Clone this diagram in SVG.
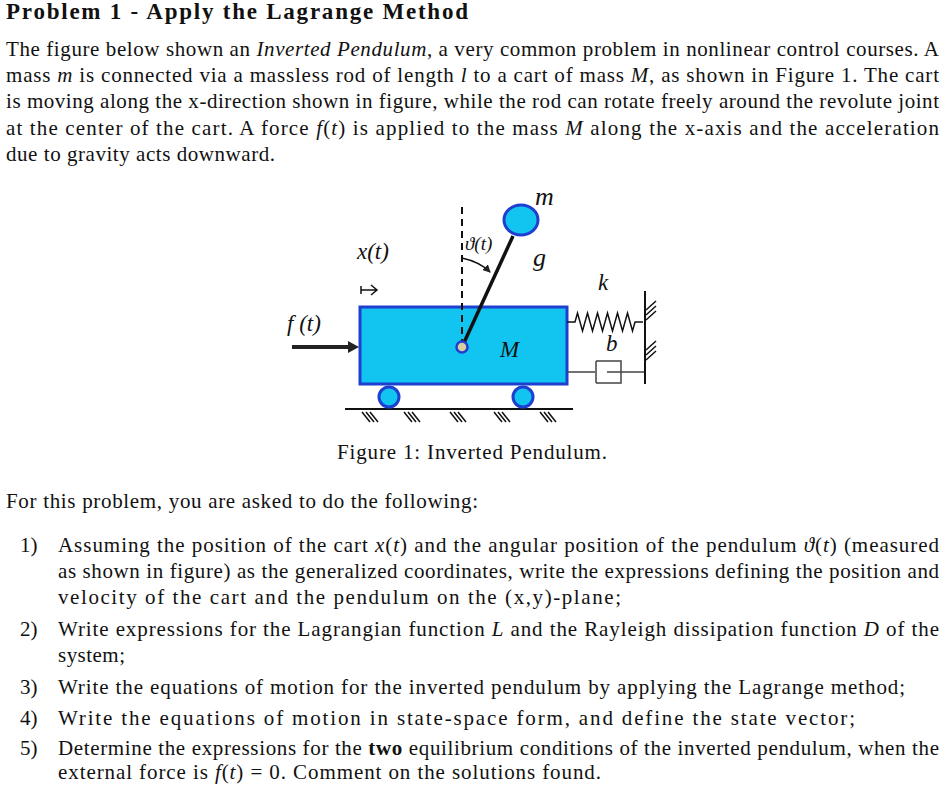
<svg xmlns="http://www.w3.org/2000/svg" width="945" height="786" viewBox="0 0 945 786">
<style>
text{font-family:"Liberation Serif",serif;fill:#111;font-size:21px}
.it{font-style:italic}
.b{stroke:#1f3fd0;stroke-width:3;fill:#12c4f0}
.k{stroke:#111;fill:none}
.f{font-style:italic;font-size:23px}
</style>
<defs><marker id="ah" markerWidth="8" markerHeight="8" refX="7" refY="4" orient="auto" markerUnits="userSpaceOnUse"><path d="M0,0 L8,4 L0,8z" fill="#222"/></marker></defs>
<rect width="945" height="786" fill="#fff"/>
<text x="6" y="19" style="font-weight:bold;font-size:23px" textLength="462" lengthAdjust="spacing">Problem 1 - Apply the Lagrange Method</text>
<text x="6" y="56" textLength="933" lengthAdjust="spacing">The figure below shown an <tspan class="it">Inverted Pendulum</tspan>, a very common problem in nonlinear control courses. A</text>
<text x="6" y="82" textLength="933" lengthAdjust="spacing">mass <tspan class="it">m</tspan> is connected via a massless rod of length <tspan class="it">l</tspan> to a cart of mass <tspan class="it">M</tspan>, as shown in Figure 1. The cart</text>
<text x="6" y="108" textLength="933" lengthAdjust="spacing">is moving along the x-direction shown in figure, while the rod can rotate freely around the revolute joint</text>
<text x="6" y="135" textLength="933" lengthAdjust="spacing">at the center of the cart. A force <tspan class="it">f</tspan>(<tspan class="it">t</tspan>) is applied to the mass <tspan class="it">M</tspan> along the x-axis and the acceleration</text>
<text x="6" y="161" textLength="269" lengthAdjust="spacing">due to gravity acts downward.</text>

<g id="ground" class="k" stroke-width="2">
<line x1="345" y1="409" x2="573" y2="409"/>
<path d="M362,412 l8,10 M366,412 l8,10 M370,412 l8,10 M404,412 l8,10 M408,412 l8,10 M412,412 l8,10 M450,412 l8,10 M454,412 l8,10 M458,412 l8,10 M494,412 l8,10 M498,412 l8,10 M502,412 l8,10 M540,412 l8,10 M544,412 l8,10 M548,412 l8,10" stroke-width="1.5"/>
</g>
<g id="cart">
<rect x="360" y="307" width="207" height="77" class="b" stroke-width="2.5"/>
<circle cx="389" cy="397" r="10" class="b"/>
<circle cx="523" cy="397" r="10" class="b"/>
<text x="500" y="357" class="f">M</text>
</g>
<g id="pendulum">
<line x1="462" y1="207" x2="462" y2="347" stroke="#111" stroke-width="2" stroke-dasharray="7,5"/>
<line x1="462" y1="347" x2="513" y2="236" stroke="#111" stroke-width="3.5"/>
<circle cx="462" cy="347" r="5.5" fill="#d8cfa0" stroke="#1f3fd0" stroke-width="2.5"/>
<ellipse cx="521" cy="220" rx="17" ry="15" class="b"/>
<path d="M462,258 Q480,262 490,272" class="k" stroke-width="1.3" marker-end="url(#ah)"/>
<text x="465" y="250" class="it" style="font-size:19px">ϑ(t)</text>
<text x="535" y="205" class="f" style="font-size:26px">m</text>
<text x="533" y="266" class="f" style="font-size:26px">g</text>
</g>
<g id="force">
<line x1="292" y1="347" x2="350" y2="347" stroke="#222" stroke-width="4"/>
<path d="M348,341 L359,347 L348,353z" fill="#222"/>
<text x="287" y="331" class="f">f (t)</text>
<text x="357" y="259" class="f">x(t)</text>
<path d="M361,286 v8 M361,290 h16 M371,285 l6,5 l-6,5" class="k" stroke-width="1.5"/>
</g>
<g id="spring-damper" class="k" stroke-width="1.5">
<path d="M567,322 h8 l2.5,-9 l5,18 l5,-18 l5,18 l5,-18 l5,18 l5,-18 l5,18 l5,-18 l5,18 l5,-18 l5,18 l2.5,-9 h8"/>
<path d="M567,372 h28 M596,361 v22 M596,361 h25 v22 h-25 M607,372 h38" stroke="#444"/>
<line x1="645" y1="291" x2="645" y2="384" stroke-width="2"/>
<path d="M646,310 l10,-9 M646,315 l10,-9 M646,320 l10,-9 M646,350 l10,-9 M646,355 l10,-9 M646,360 l10,-9"/>
<text x="598" y="290" class="f" stroke="none">k</text>
<text x="606" y="351" class="f" stroke="none">b</text>
</g>
<text x="337" y="459" textLength="270" lengthAdjust="spacing">Figure 1: Inverted Pendulum.</text>

<text x="6" y="508" textLength="472" lengthAdjust="spacing">For this problem, you are asked to do the following:</text>
<text x="20" y="552">1)</text>
<text x="58" y="552" textLength="881" lengthAdjust="spacing">Assuming the position of the cart <tspan class="it">x</tspan>(<tspan class="it">t</tspan>) and the angular position of the pendulum <tspan class="it">ϑ</tspan>(<tspan class="it">t</tspan>) (measured</text>
<text x="58" y="578" textLength="881" lengthAdjust="spacing">as shown in figure) as the generalized coordinates, write the expressions defining the position and</text>
<text x="58" y="604" textLength="563" lengthAdjust="spacing">velocity of the cart and the pendulum on the (x,y)-plane;</text>
<text x="20" y="636">2)</text>
<text x="58" y="636" textLength="881" lengthAdjust="spacing">Write expressions for the Lagrangian function <tspan class="it">L</tspan> and the Rayleigh dissipation function <tspan class="it">D</tspan> of the</text>
<text x="58" y="662" textLength="67" lengthAdjust="spacing">system;</text>
<text x="20" y="694">3)</text>
<text x="58" y="694" textLength="847" lengthAdjust="spacing">Write the equations of motion for the inverted pendulum by applying the Lagrange method;</text>
<text x="20" y="725">4)</text>
<text x="58" y="725" textLength="797" lengthAdjust="spacing">Write the equations of motion in state-space form, and define the state vector;</text>
<text x="20" y="755">5)</text>
<text x="58" y="755" textLength="881" lengthAdjust="spacing">Determine the expressions for the <tspan font-weight="bold">two</tspan> equilibrium conditions of the inverted pendulum, when the</text>
<text x="58" y="779" textLength="543" lengthAdjust="spacing">external force is <tspan class="it">f</tspan>(<tspan class="it">t</tspan>) = 0. Comment on the solutions found.</text>
</svg>
